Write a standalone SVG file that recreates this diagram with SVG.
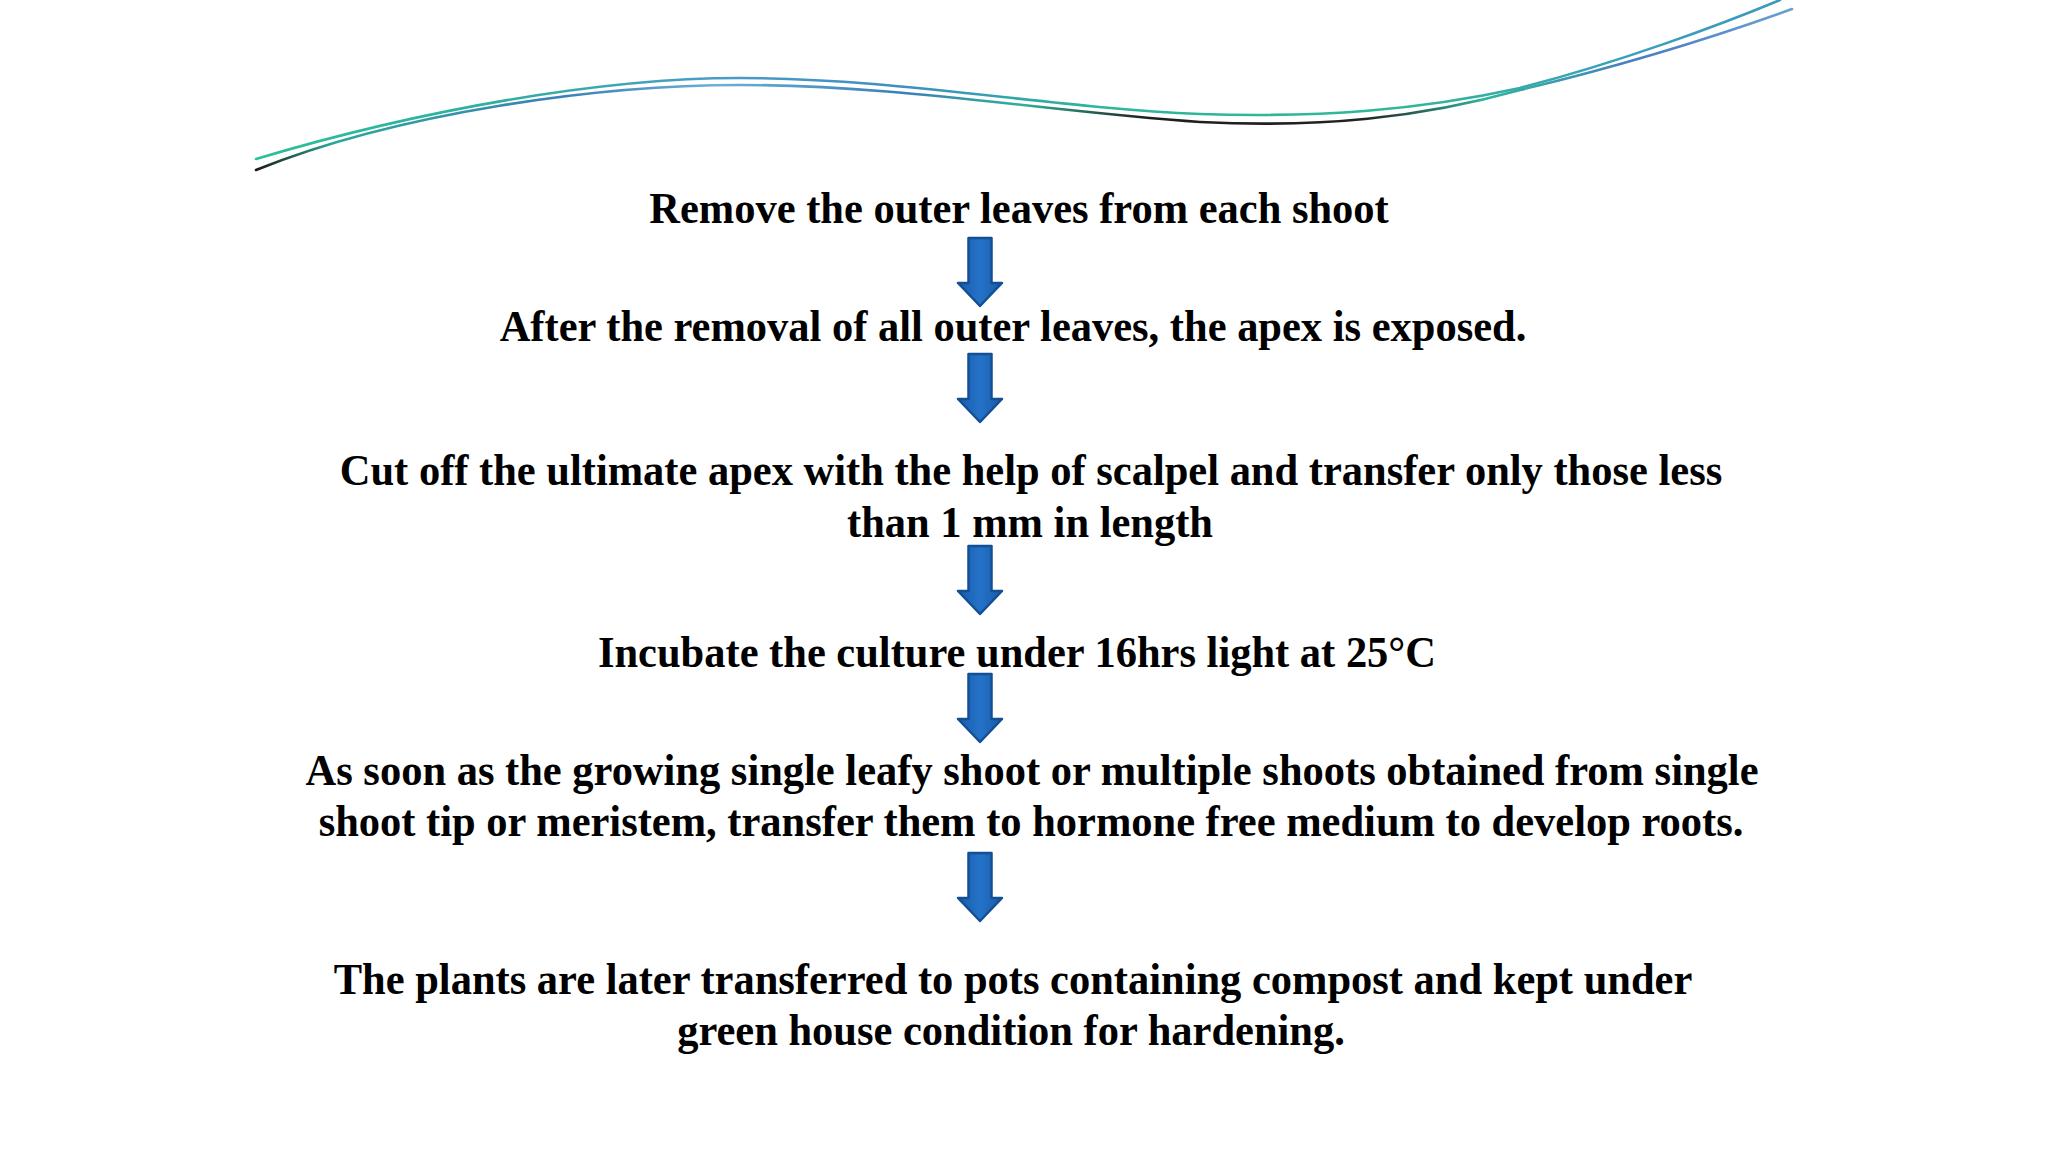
<svg xmlns="http://www.w3.org/2000/svg" width="2048" height="1152" viewBox="0 0 2048 1152">
<defs>
<linearGradient id="gA" gradientUnits="userSpaceOnUse" x1="256" y1="0" x2="1792" y2="0">
<stop offset="0" stop-color="#2bbf9a"/>
<stop offset="0.15" stop-color="#2fb09c"/>
<stop offset="0.3" stop-color="#4a9cc8"/>
<stop offset="0.42" stop-color="#3d8fc0"/>
<stop offset="0.55" stop-color="#2fb59a"/>
<stop offset="0.75" stop-color="#2fb896"/>
<stop offset="0.9" stop-color="#3a9ec0"/>
<stop offset="1" stop-color="#3c98b8"/>
</linearGradient>
<linearGradient id="gB" gradientUnits="userSpaceOnUse" x1="256" y1="0" x2="1792" y2="0">
<stop offset="0" stop-color="#1a1a1a"/>
<stop offset="0.05" stop-color="#2aa79a"/>
<stop offset="0.2" stop-color="#3c7fb8"/>
<stop offset="0.3" stop-color="#6ab0d8"/>
<stop offset="0.42" stop-color="#3a7fb8"/>
<stop offset="0.5" stop-color="#2fb09a"/>
<stop offset="0.58" stop-color="#1f1f1f"/>
<stop offset="0.72" stop-color="#222"/>
<stop offset="0.8" stop-color="#2fb59a"/>
<stop offset="0.9" stop-color="#4b7cc4"/>
<stop offset="1" stop-color="#6aa0d0"/>
</linearGradient>
<linearGradient id="arrowFill" x1="0" y1="0" x2="1" y2="0">
<stop offset="0" stop-color="#1a5aa8"/>
<stop offset="0.5" stop-color="#2473c8"/>
<stop offset="1" stop-color="#1a5aa8"/>
</linearGradient>
<path id="arrow" d="M-11.5,0 H11.5 V45 H22 L0,68 L-22,45 H-11.5 Z" fill="url(#arrowFill)" stroke="#124f94" stroke-width="2.5" stroke-linejoin="round"/>
</defs>
<style>
.t{font-family:"Liberation Serif","Times New Roman",serif;font-weight:bold;font-size:42.5px;fill:#000;text-anchor:middle}
.wave{fill:none;stroke-width:2.6;stroke-linecap:round}
</style>
<rect width="2048" height="1152" fill="#ffffff"/>
<g id="decor">
<path class="wave" stroke="url(#gA)" d="M256,159 C420,110 600,78 740,78 C900,78 1050,108 1200,114 C1320,118 1420,110 1520,88 C1620,62 1720,25 1780,0"/>
<path class="wave" stroke="url(#gB)" d="M256,170 C400,112 600,85 740,85 C900,85 1050,112 1200,122 C1320,128 1420,118 1520,90 C1620,66 1720,35 1792,9"/>
</g>
<g id="step1"><text class="t" transform="translate(1019,223) scale(1,1.06)">Remove the outer leaves from each shoot</text></g>
<g id="step2"><text class="t" transform="translate(1013,341) scale(1,1.06)">After the removal of all outer leaves, the apex is exposed.</text></g>
<g id="step3"><text class="t" transform="translate(1031,485) scale(1,1.06)">Cut off the ultimate apex with the help of scalpel and transfer only those less</text><text class="t" transform="translate(1030,537) scale(1,1.06)">than 1 mm in length</text></g>
<g id="step4"><text class="t" transform="translate(1017,667) scale(1,1.06)">Incubate the culture under 16hrs light at 25°C</text></g>
<g id="step5"><text class="t" transform="translate(1032,785) scale(1,1.06)">As soon as the growing single leafy shoot or multiple shoots obtained from single</text><text class="t" transform="translate(1031,836) scale(1,1.06)">shoot tip or meristem, transfer them to hormone free medium to develop roots.</text></g>
<g id="step6"><text class="t" transform="translate(1013,994) scale(1,1.06)">The plants are later transferred to pots containing compost and kept under</text><text class="t" transform="translate(1011,1045) scale(1,1.06)">green house condition for hardening.</text></g>
<g id="connectors">
<use href="#arrow" x="980" y="238"/>
<use href="#arrow" x="980" y="354"/>
<use href="#arrow" x="980" y="546"/>
<use href="#arrow" x="980" y="674"/>
<use href="#arrow" x="980" y="853"/>
</g>
</svg>
